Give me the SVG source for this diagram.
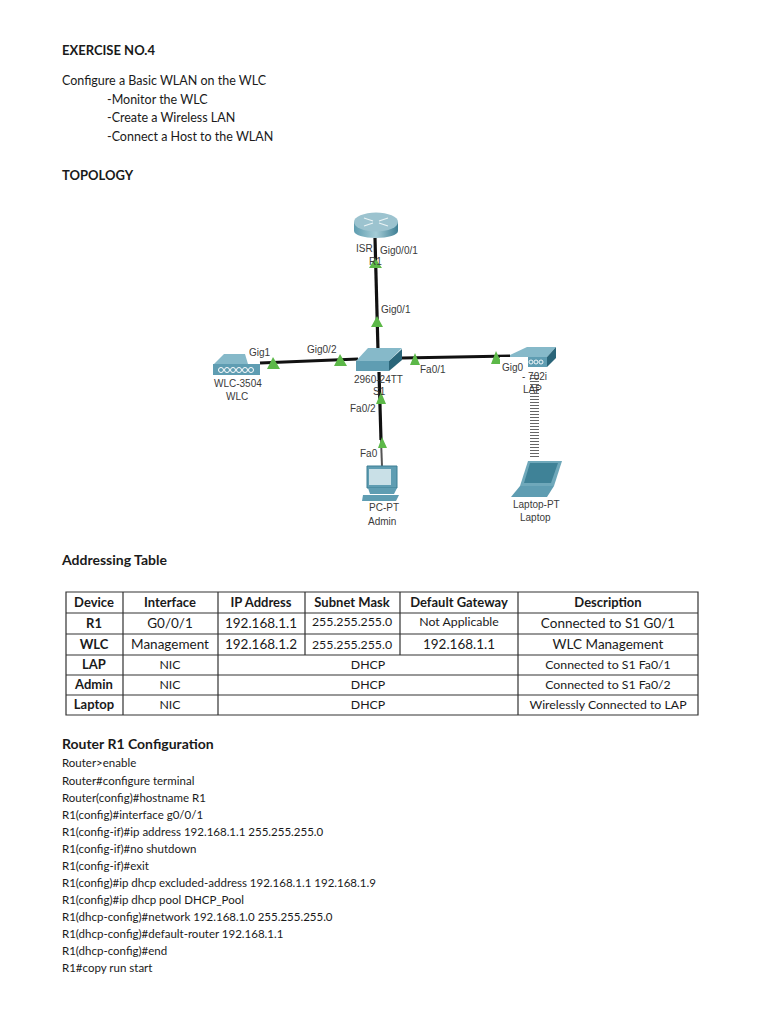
<svg xmlns="http://www.w3.org/2000/svg" width="768" height="1024" viewBox="0 0 768 1024">
<defs>
<linearGradient id="rt" x1="0" x2="1" y1="0" y2="0"><stop offset="0" stop-color="#5f9db0"/><stop offset=".5" stop-color="#a5ccd6"/><stop offset="1" stop-color="#3f7f94"/></linearGradient>
</defs>
<style>
text{font-family:"Lato","Carlito","Liberation Sans",sans-serif;font-size:12px;fill:#1a1a1a}
.h{font-size:13px;font-weight:700}
.h2{font-size:14px;font-weight:700}
.l{font-size:12.5px}
.t{font-size:13.5px;text-anchor:middle}
.s{font-size:12.3px;text-anchor:middle}
.tb{font-size:13px;font-weight:700;text-anchor:middle}
.c{font-size:11.5px}
.p{font-family:"Liberation Sans",Arial,sans-serif;font-size:10px;fill:#3a3a3a}
.grid{stroke:#333;stroke-width:1.2;fill:none}
.link{stroke:#111;stroke-width:3.2;fill:none}
.tri{fill:#5cb848}
.body{fill:#5f9db2}
.top{fill:#86b9c9}
.side{fill:#2a6579}
</style>
<rect width="768" height="1024" fill="#fff"/>
<g id="heading">
<text class="h" x="62" y="55">EXERCISE NO.4</text>
<text class="l" x="62" y="85">Configure a Basic WLAN on the WLC</text>
<text class="l" x="107" y="104">-Monitor the WLC</text>
<text class="l" x="107" y="122">-Create a Wireless LAN</text>
<text class="l" x="107" y="141">-Connect a Host to the WLAN</text>
<text class="h" x="62" y="180">TOPOLOGY</text>
</g>
<g id="connectors">
<path class="link" d="M375 238L378 350"/>
<path class="link" d="M260 363L358 359"/>
<path class="link" d="M402 358L510 356"/>
<path class="link" d="M379 372L381 440"/>
<path d="M381 440L382 466" stroke="#555" stroke-width="2" fill="none"/>
<path d="M534.500 375V459" stroke="#666" stroke-width="9" stroke-dasharray="1 2" fill="none"/>
<path class="tri" d="M375 258L369 268H382ZM377 316L371 327H383ZM273 357L267 369H280ZM340 354L334 366H347ZM415 353L410 365H420ZM496 351L491 364H502ZM381 392L376 404H386ZM382 437L378 448H387Z"/>
</g>
<g id="R1">
<path d="M354 222V231C354 235 364 238 376 238S398 235 398 231V222Z" fill="url(#rt)"/>
<ellipse cx="376" cy="222" rx="22" ry="9.500" fill="#9cc3cf"/>
<path d="M364 218l9 3M388 218l-9 3M364 226l9-3M388 226l-9-3" stroke="#eaf3f5" stroke-width="1.200"/>
<text class="p" x="356" y="252">ISR</text>
<text class="p" x="369" y="265">R1</text>
<text class="p" x="380" y="254">Gig0/0/1</text>
<text class="p" x="381" y="313">Gig0/1</text>
</g>
<g id="WLC">
<path class="top" d="M214 364L224 354H245L248 364Z"/>
<rect class="body" x="213" y="364" width="47" height="11"/>
<g fill="none" stroke="#fff" stroke-width="1"><circle cx="221" cy="370" r="2.500"/><circle cx="227" cy="370" r="2.500"/><circle cx="233" cy="370" r="2.500"/><circle cx="239" cy="370" r="2.500"/><circle cx="245" cy="370" r="2.500"/><circle cx="251" cy="370" r="2.500"/></g>
<text class="p" x="214" y="387">WLC-3504</text>
<text class="p" x="226" y="400">WLC</text>
<text class="p" x="249" y="356">Gig1</text>
<text class="p" x="307" y="353">Gig0/2</text>
</g>
<g id="S1">
<path class="top" d="M368 348H402L389 361H356Z"/>
<path class="body" d="M356 361H389V371H356Z"/>
<path class="side" d="M389 361L402 349V360L389 371Z"/>
<text class="p" x="354" y="383">2960-24TT</text>
<text class="p" x="373" y="395">S1</text>
<text class="p" x="420" y="373">Fa0/1</text>
<text class="p" x="350" y="412">Fa0/2</text>
</g>
<g id="LAP">
<path class="top" d="M510 355L527 347H556L547 357H510Z"/>
<rect class="body" x="510" y="357" width="37" height="10"/>
<path class="side" d="M547 357L556 347V358L547 367Z"/>
<rect x="500" y="357" width="28" height="11" fill="#fff"/>
<g fill="none" stroke="#fff" stroke-width=".9"><circle cx="531" cy="362" r="2"/><circle cx="536" cy="362" r="2"/><circle cx="541" cy="362" r="2"/></g>
<text class="p" x="502" y="371">Gig0</text>
<text class="p" x="522" y="380">- 702i</text>
<text class="p" x="523" y="393">LAP</text>
</g>
<g id="Admin">
<path fill="#5f9db2" stroke="#3d7e94" stroke-width="1" d="M367 466H397V488H367Z"/>
<path fill="#c9e0e7" d="M369 469H391V485H369Z"/>
<path class="body" d="M368 488H397L394 494H370ZM363 495H399L396 501H362Z"/>
<text class="p" x="369" y="511">PC-PT</text>
<text class="p" x="368" y="525">Admin</text>
<text class="p" x="360" y="457">Fa0</text>
</g>
<g id="Laptop">
<path fill="#6fa8ba" d="M528 461H562L554 486H520Z"/>
<path fill="#3f8297" d="M530 463H558L551 483H524Z"/>
<path class="body" d="M520 486H554L547 497H511Z"/>
<text class="p" x="513" y="508">Laptop-PT</text>
<text class="p" x="520" y="521">Laptop</text>
</g>
<g id="table-heading"><text class="h2" x="62" y="565">Addressing Table</text></g>
<g id="table">
<path class="grid" d="M66 592H698V715H66ZM66 613H698M66 634H698M66 655H698M66 675H698M66 695H698M123 592V715M218 592V715M305 592V655M400 592V655M518 592V715"/>
<text class="tb" x="94" y="607">Device</text><text class="tb" x="170" y="607">Interface</text><text class="tb" x="261" y="607">IP Address</text><text class="tb" x="352" y="607">Subnet Mask</text><text class="tb" x="459" y="607">Default Gateway</text><text class="tb" x="608" y="607">Description</text>
<text class="tb" x="94" y="628">R1</text><text class="t" x="170" y="628">G0/0/1</text><text class="t" x="261" y="628">192.168.1.1</text><text class="s" x="352" y="626">255.255.255.0</text><text class="s" x="459" y="626">Not Applicable</text><text class="t" x="608" y="628">Connected to S1 G0/1</text>
<text class="tb" x="94" y="649">WLC</text><text class="t" x="170" y="649">Management</text><text class="t" x="261" y="649">192.168.1.2</text><text class="s" x="352" y="649">255.255.255.0</text><text class="t" x="459" y="649">192.168.1.1</text><text class="t" x="608" y="649">WLC Management</text>
<text class="tb" x="94" y="669">LAP</text><text class="s" x="170" y="669">NIC</text><text class="s" x="368" y="669">DHCP</text><text class="s" x="608" y="669">Connected to S1 Fa0/1</text>
<text class="tb" x="94" y="689">Admin</text><text class="s" x="170" y="689">NIC</text><text class="s" x="368" y="689">DHCP</text><text class="s" x="608" y="689">Connected to S1 Fa0/2</text>
<text class="tb" x="94" y="709">Laptop</text><text class="s" x="170" y="709">NIC</text><text class="s" x="368" y="709">DHCP</text><text class="s" x="608" y="709">Wirelessly Connected to LAP</text>
</g>
<g id="config">
<text class="h2" x="62" y="749">Router R1 Configuration</text>
<text class="c" x="62" y="767">Router&gt;enable</text>
<text class="c" x="62" y="785">Router#configure terminal</text>
<text class="c" x="62" y="802">Router(config)#hostname R1</text>
<text class="c" x="62" y="819">R1(config)#interface g0/0/1</text>
<text class="c" x="62" y="836">R1(config-if)#ip address 192.168.1.1 255.255.255.0</text>
<text class="c" x="62" y="853">R1(config-if)#no shutdown</text>
<text class="c" x="62" y="870">R1(config-if)#exit</text>
<text class="c" x="62" y="887">R1(config)#ip dhcp excluded-address 192.168.1.1 192.168.1.9</text>
<text class="c" x="62" y="904">R1(config)#ip dhcp pool DHCP_Pool</text>
<text class="c" x="62" y="921">R1(dhcp-config)#network 192.168.1.0 255.255.255.0</text>
<text class="c" x="62" y="938">R1(dhcp-config)#default-router 192.168.1.1</text>
<text class="c" x="62" y="955">R1(dhcp-config)#end</text>
<text class="c" x="62" y="972">R1#copy run start</text>
</g>
</svg>
